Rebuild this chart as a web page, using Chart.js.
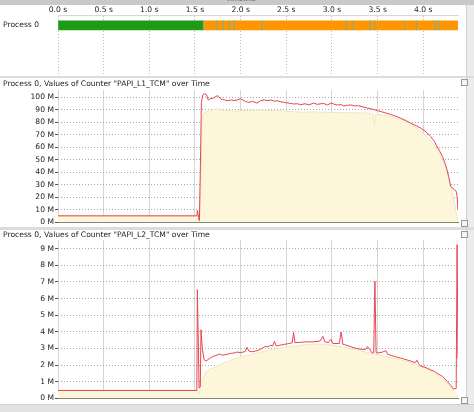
<!DOCTYPE html>
<html>
<head>
<meta charset="utf-8">
<script src="https://cdn.jsdelivr.net/npm/chart.js@4"></script>
<style>
  body { margin: 0; background: #fff; font-family: "DejaVu Sans", sans-serif; }
  #page { position: relative; width: 474px; height: 412px; overflow: hidden; background: #fff; }
  .abs { position: absolute; }
  .title { font-size: 7.6px; color: #222; white-space: nowrap; }
  .sep { background: #dcdcdc; left: 0; width: 474px; }
  .side { background: #ececec; border-left: 1px solid #d0d0d0; }
  .corner { width: 5px; height: 5px; border: 1px solid #999; background: #f4f4f4; }
</style>
</head>
<body>
<div id="page">
  <div class="abs" style="left:0;top:0;width:474px;height:5px;background:#c9c9c9;overflow:hidden;">
    <div class="abs title" style="left:226px;top:-5px;font-size:7px;color:#555;">Timeline</div>
  </div>
  <div class="abs" style="left:0;top:4px;"><canvas id="timeline" width="474" height="73"></canvas></div>
  <div class="abs title" style="left:3px;top:20px;">Process 0</div>
  <div class="abs sep" style="top:76px;height:2px;"></div>

  <div class="abs title" style="left:3px;top:79px;">Process 0, Values of Counter "PAPI_L1_TCM" over Time</div>
  <div class="abs" style="left:0;top:78px;"><canvas id="l1" width="474" height="150"></canvas></div>
  <div class="abs sep" style="top:227px;height:3px;"></div>

  <div class="abs title" style="left:3px;top:230px;">Process 0, Values of Counter "PAPI_L2_TCM" over Time</div>
  <div class="abs" style="left:0;top:230px;"><canvas id="l2" width="474" height="174"></canvas></div>
  <div class="abs sep" style="top:404px;height:8px;background:#e2e2e2;border-top:1px solid #cfcfcf;"></div>

  <div class="abs side" style="left:466px;top:5px;width:8px;height:71px;"></div>
  <div class="abs side" style="left:466px;top:78px;width:8px;height:149px;"></div>
  <div class="abs side" style="left:466px;top:230px;width:8px;height:174px;"></div>
  <div class="abs corner" style="left:461px;top:79px;"></div>
  <div class="abs corner" style="left:461px;top:220px;"></div>
  <div class="abs corner" style="left:461px;top:231px;"></div>
  <div class="abs corner" style="left:461px;top:397px;"></div>
</div>

<script>
// time axis (seconds)
const timeMax = 4.38;
const timeTicks = [0, 0.5, 1, 1.5, 2, 2.5, 3, 3.5, 4];

// timeline of Process 0
const processes = ['Process 0', '', ''];
const greenSpan = [0, 1.585];
const orangeSpan = [1.585, 4.38];
const sliverTimes = [1.59, 1.73, 1.80, 1.87, 1.92, 2.23, 3.15, 3.22, 3.41, 3.46, 3.79, 3.92, 4.12, 4.16];

// PAPI_L1_TCM (millions)
const l1Ticks = [0, 10, 20, 30, 40, 50, 60, 70, 80, 90, 100];
const l1MaxTimes = [0, 1.52, 1.527, 1.54, 1.548, 1.558, 1.57, 1.585, 1.6, 1.625, 1.645, 1.67, 1.7, 1.72, 1.75, 1.78, 1.8, 1.85, 1.9, 1.93, 1.96, 2.0, 2.05, 2.09, 2.13, 2.18, 2.22, 2.26, 2.3, 2.33, 2.37, 2.4, 2.44, 2.48, 2.53, 2.58, 2.62, 2.66, 2.7, 2.75, 2.8, 2.84, 2.88, 2.91, 2.95, 2.99, 3.03, 3.06, 3.1, 3.13, 3.17, 3.21, 3.25, 3.28, 3.34, 3.39, 3.45, 3.5, 3.57, 3.64, 3.7, 3.75, 3.81, 3.86, 3.92, 3.97, 4.03, 4.08, 4.12, 4.15, 4.18, 4.21, 4.24, 4.26, 4.28, 4.3, 4.34, 4.36, 4.37, 4.38];
const l1MaxValues = [5.3, 5.3, 9.6, 4, 1.5, 40, 96, 102, 103, 102.5, 98, 99, 99.5, 100.5, 101.5, 99, 98.5, 97.5, 98, 97.5, 98, 99, 97, 96, 97, 95.5, 97.5, 98, 97.5, 98, 97, 97.5, 96.5, 96, 95.5, 94.8, 95, 94.2, 95, 94.2, 95.5, 94.5, 95, 95.2, 94, 95.5, 94.5, 94, 94.3, 93.2, 93.8, 94, 93.2, 93.5, 92.5, 91.5, 90.5, 89.5, 88, 86.5, 85, 83.5, 81.5, 79.5, 77.5, 75.5, 72.5, 68.8, 65, 60.8, 57, 52.8, 47, 42.2, 36, 28.8, 26.2, 25, 20.8, 10];
const l1AvgTimes = [0, 1.52, 1.527, 1.54, 1.55, 1.56, 1.575, 1.59, 1.62, 1.66, 1.7, 1.74, 1.78, 1.85, 1.93, 2.0, 2.1, 2.2, 2.3, 2.4, 2.5, 2.66, 2.8, 3.0, 3.2, 3.39, 3.45, 3.465, 3.48, 3.55, 3.6, 3.75, 3.85, 3.93, 4.0, 4.06, 4.12, 4.18, 4.22, 4.26, 4.3, 4.34, 4.36, 4.38];
const l1AvgValues = [5, 5, 7, 3, 0.5, 20, 80, 87, 88.5, 89, 90, 91.5, 90, 89.5, 89, 89.3, 89.8, 90, 89.6, 89.5, 89, 88.3, 88.5, 88, 87.8, 87.5, 86.5, 77, 86.5, 86, 85.5, 82.7, 79.5, 75.5, 71.5, 67, 62, 55, 48, 40, 28.8, 17, 7.5, 0];

// PAPI_L2_TCM (millions)
const l2Ticks = [0, 1, 2, 3, 4, 5, 6, 7, 8, 9];
const l2MaxTimes = [0, 1.52, 1.526, 1.545, 1.558, 1.566, 1.58, 1.6, 1.62, 1.66, 1.7, 1.74, 1.77, 1.8, 1.85, 1.9, 1.93, 1.96, 2.0, 2.05, 2.07, 2.09, 2.12, 2.15, 2.2, 2.27, 2.3, 2.33, 2.35, 2.37, 2.39, 2.43, 2.48, 2.53, 2.565, 2.58, 2.595, 2.65, 2.72, 2.79, 2.87, 2.9, 2.92, 2.96, 2.99, 3.01, 3.08, 3.1, 3.12, 3.16, 3.21, 3.27, 3.32, 3.37, 3.39, 3.42, 3.44, 3.457, 3.47, 3.483, 3.5, 3.55, 3.59, 3.61, 3.65, 3.7, 3.75, 3.8, 3.86, 3.91, 3.93, 3.95, 3.97, 4.03, 4.08, 4.12, 4.17, 4.21, 4.26, 4.3, 4.33, 4.36, 4.37, 4.38];
const l2MaxValues = [0.48, 0.48, 6.54, 0.62, 0.7, 4.13, 3.0, 2.33, 2.25, 2.4, 2.53, 2.6, 2.67, 2.6, 2.65, 2.72, 2.73, 2.79, 2.75, 2.82, 3.07, 2.85, 2.8, 2.83, 2.9, 3.13, 3.1, 3.2, 3.15, 3.43, 3.15, 3.2, 3.25, 3.3, 3.35, 3.97, 3.35, 3.37, 3.4, 3.4, 3.45, 3.73, 3.42, 3.35, 3.55, 3.3, 3.3, 3.99, 3.25, 3.2, 3.1, 3.0, 2.95, 2.95, 3.12, 2.9, 2.73, 2.75, 7.04, 2.75, 2.73, 2.78, 2.87, 2.65, 2.58, 2.5, 2.43, 2.35, 2.25, 2.15, 2.3, 2.08, 1.95, 1.85, 1.72, 1.63, 1.45, 1.33, 1.03, 0.8, 0.57, 0.6, 9.24, 2.4];
const l2AvgTimes = [0, 1.52, 1.53, 1.55, 1.565, 1.6, 1.62, 1.68, 1.74, 1.8, 1.88, 1.96, 2.0, 2.1, 2.2, 2.29, 2.4, 2.5, 2.6, 2.7, 2.8, 2.9, 3.02, 3.1, 3.21, 3.3, 3.4, 3.46, 3.6, 3.75, 3.85, 3.93, 4.0, 4.06, 4.12, 4.2, 4.26, 4.3, 4.33, 4.36, 4.38];
const l2AvgValues = [0.48, 0.48, 0.5, 0.3, 1.0, 1.35, 1.63, 1.8, 1.93, 2.1, 2.27, 2.43, 2.5, 2.62, 2.75, 2.87, 2.98, 3.08, 3.15, 3.22, 3.27, 3.25, 3.19, 3.1, 2.99, 2.88, 2.75, 2.67, 2.5, 2.33, 2.18, 2.03, 1.88, 1.72, 1.53, 1.25, 0.93, 0.68, 0.43, 0.25, 0.13];

const font = { family: 'DejaVu Sans', size: 7.6 };
const red = 'rgb(232, 70, 78)';
const cream = 'rgb(253, 246, 219)';
const creamLine = 'rgb(238, 230, 196)';
Chart.defaults.color = '#222';

const toPoints = (times, values) => times.map((t, i) => ({ x: t, y: values[i] }));
const fixTicks = list => scale => { scale.ticks = list.map(v => ({ value: v })); };

// timeline (slivers first so they are drawn on top)
new Chart(document.getElementById('timeline'), {
    type: 'bar',
    data: {
        labels: processes,
        datasets: [
            {
                data: sliverTimes.map(t => ({ y: 'Process 0', x: [t, t + 0.012] })),
                backgroundColor: '#a5a765', grouped: false, barThickness: 9
            },
            { data: [greenSpan], backgroundColor: '#1f9a16', grouped: false, barThickness: 9 },
            { data: [orangeSpan], backgroundColor: '#ff9600', grouped: false, barThickness: 9 }
        ]
    },
    options: {
        indexAxis: 'y',
        responsive: false,
        animation: false,
        layout: { padding: { left: 58, right: 16, top: 0, bottom: 0 } },
        plugins: { legend: { display: false }, tooltip: { enabled: false } },
        scales: {
            x: {
                type: 'linear', position: 'top', min: 0, max: timeMax,
                afterBuildTicks: fixTicks(timeTicks),
                ticks: { font, padding: 1, callback: v => v.toFixed(1) + ' s' },
                grid: { color: '#b8b8b8', drawTicks: false },
                border: { color: '#d8d8d8', dash: [1, 2] }
            },
            y: { display: false }
        }
    }
});

function counterChart(id, maxTimes, maxValues, avgTimes, avgValues, yMax, ticks, pad) {
    return new Chart(document.getElementById(id), {
        type: 'line',
        data: {
            datasets: [
                {
                    data: toPoints(maxTimes, maxValues),
                    borderColor: red, borderWidth: 1, pointRadius: 0, fill: false
                },
                {
                    data: toPoints(avgTimes, avgValues),
                    borderColor: creamLine, borderWidth: 1, pointRadius: 0,
                    fill: 'origin', backgroundColor: cream
                }
            ]
        },
        options: {
            responsive: false,
            animation: false,
            layout: { padding: pad },
            plugins: { legend: { display: false }, tooltip: { enabled: false } },
            scales: {
                x: {
                    type: 'linear', min: 0, max: timeMax,
                    afterBuildTicks: fixTicks(timeTicks),
                    ticks: { display: false },
                    grid: { color: '#d6d6d6', drawTicks: false },
                    border: { color: '#6e776a' }
                },
                y: {
                    min: 0, max: yMax,
                    afterBuildTicks: fixTicks(ticks),
                    afterFit: s => { s.width = 58; },
                    ticks: { font, padding: 1, callback: v => v + ' M' },
                    grid: { color: '#a8a8a8', tickLength: 3, tickColor: '#555', tickBorderDash: [] },
                    border: { display: false, dash: [1, 2] }
                }
            }
        }
    });
}

counterChart('l1', l1MaxTimes, l1MaxValues, l1AvgTimes, l1AvgValues, 106, l1Ticks,
    { left: 0, right: 16, top: 12, bottom: 5 });
counterChart('l2', l2MaxTimes, l2MaxValues, l2AvgTimes, l2AvgValues, 9.52, l2Ticks,
    { left: 0, right: 16, top: 10, bottom: 5 });
</script>
</body>
</html>
